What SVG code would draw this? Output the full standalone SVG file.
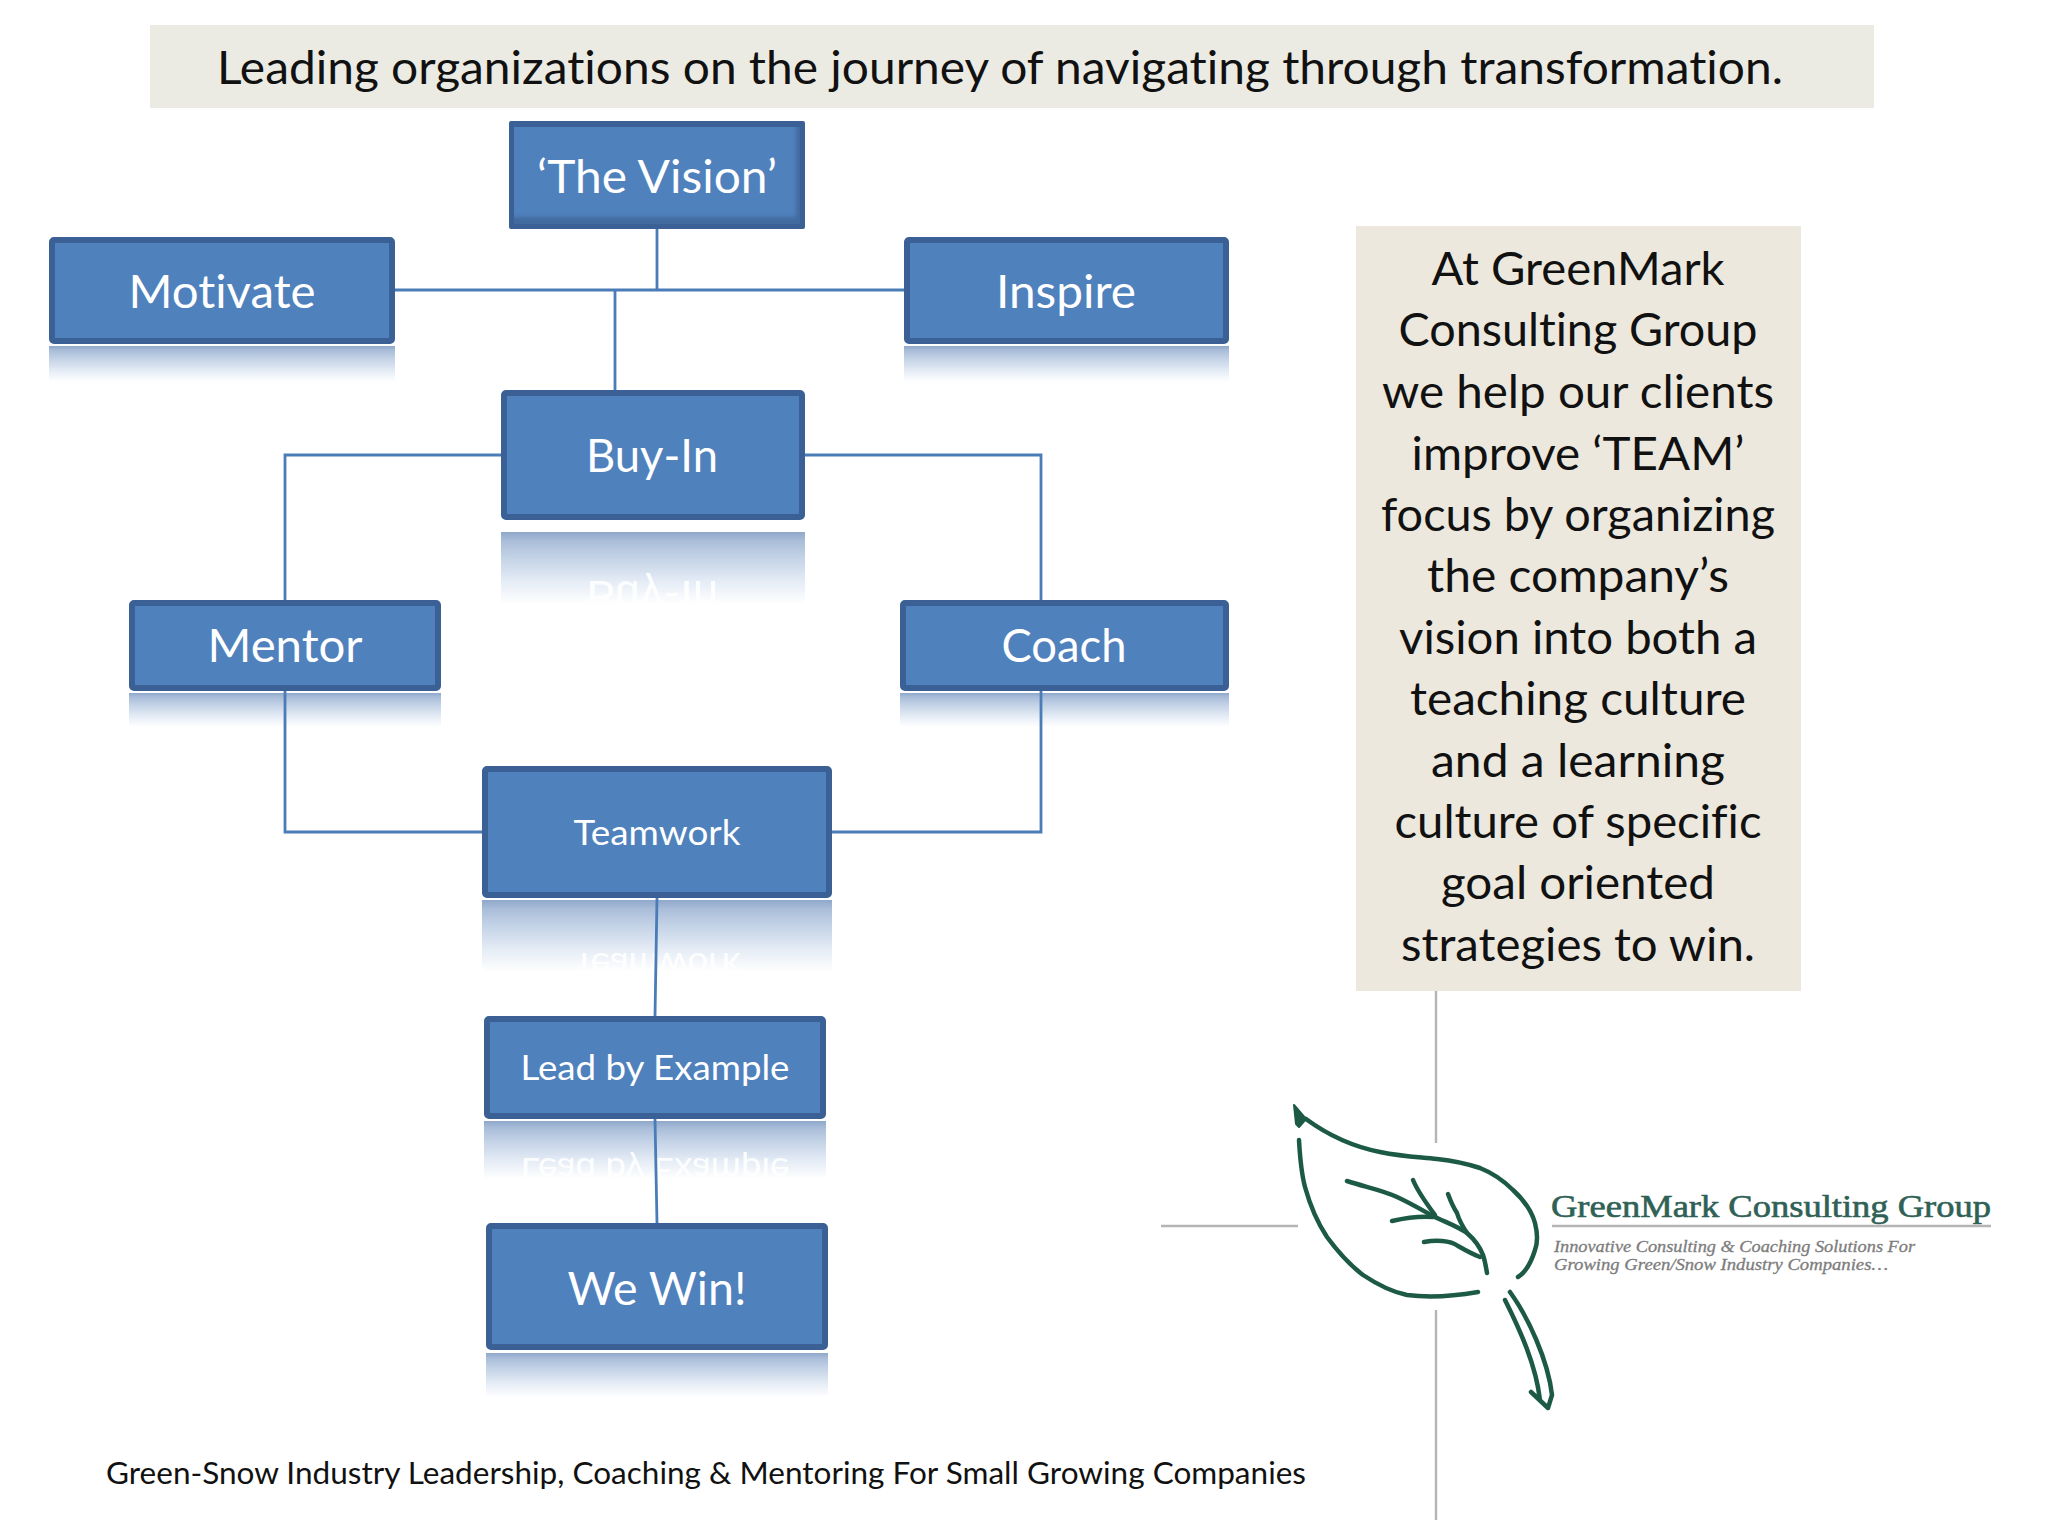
<svg xmlns="http://www.w3.org/2000/svg" width="2048" height="1536" viewBox="0 0 2048 1536">
<style>
text{font-family:"Lato","Liberation Sans",sans-serif;font-variant-ligatures:none}
.box{fill:#4f81bd;stroke:#3a6096;stroke-width:6}
.lbl{fill:#fff;text-anchor:middle}
.ref{fill:url(#fade)}
.mir{fill:#fff;text-anchor:middle;opacity:.9}
.conn{fill:none;stroke:#4a7cb8;stroke-width:2.8}
.gray{fill:none;stroke:#b5b5b5;stroke-width:2.4}
.body{fill:#111;text-anchor:middle;font-size:46px}
.leaf{fill:none;stroke:#1c5a46;stroke-width:4.5;stroke-linecap:round;stroke-linejoin:round}
.tag{font-family:"Liberation Serif",serif;font-style:italic;font-size:16px;fill:#7d7d7d;stroke:#7d7d7d;stroke-width:.3}
.brand{font-family:"Liberation Serif",serif;fill:#2f6156;stroke:#2f6156;stroke-width:.6}
</style>
<defs>
<linearGradient id="fade" x1="0" y1="0" x2="0" y2="1"><stop offset="0" stop-color="#8fa7ca"/><stop offset=".12" stop-color="#a9bdd9"/><stop offset=".35" stop-color="#c3d2e6"/><stop offset=".7" stop-color="#e6edf6"/><stop offset="1" stop-color="#fff"/></linearGradient>
<filter id="soft" x="-5%" y="-5%" width="110%" height="110%"><feGaussianBlur stdDeviation="2.200"/></filter>
<clipPath id="cVis"><rect x="514" y="127" width="286" height="97"/></clipPath>
<clipPath id="cBuy"><rect x="501" y="532" width="304" height="72"/></clipPath>
<clipPath id="cTeam"><rect x="482" y="900" width="350" height="72"/></clipPath>
<clipPath id="cLead"><rect x="484" y="1121" width="342" height="58"/></clipPath>
</defs>
<rect width="2048" height="1536" fill="#fff"/>
<g id="banner"><rect x="150" y="25" width="1724" height="83" fill="#ebebe4"/><text x="217" y="84" font-size="46" fill="#111" textLength="1566" lengthAdjust="spacingAndGlyphs">Leading organizations on the journey of navigating through transformation.</text></g>
<g id="reflections">
<rect class="ref" x="49" y="346" width="346" height="36"/>
<rect class="ref" x="904" y="346" width="325" height="36"/>
<rect class="ref" x="501" y="532" width="304" height="72"/>
<rect class="ref" x="129" y="693" width="312" height="34"/>
<rect class="ref" x="900" y="693" width="329" height="34"/>
<rect class="ref" x="482" y="900" width="350" height="72"/>
<rect class="ref" x="484" y="1121" width="342" height="58"/>
<rect class="ref" x="486" y="1353" width="342" height="44"/>
<g clip-path="url(#cBuy)"><text class="mir" transform="translate(652,581) scale(1,-1)" font-size="46" textLength="132" lengthAdjust="spacingAndGlyphs">Buy-In</text></g>
<g clip-path="url(#cTeam)"><text class="mir" transform="translate(657,953) scale(1,-1)" font-size="35" textLength="167" lengthAdjust="spacingAndGlyphs">Teamwork</text></g>
<g clip-path="url(#cLead)"><text class="mir" transform="translate(655,1158) scale(1,-1)" font-size="35" textLength="269" lengthAdjust="spacingAndGlyphs">Lead by Example</text></g>
</g>
<g id="connectors">
<path class="conn" d="M657 229V290M395 290H905M615 290V390"/>
<path class="conn" d="M501 455H285V600M805 455H1041V600"/>
<path class="conn" d="M285 691V832H482M1041 691V832H832"/>
<path class="conn" d="M657 898L655 1016M655 1119L657 1223"/>
<path class="gray" d="M1436 991V1143M1436 1310V1520M1161 1226H1298"/>
</g>
<g id="vision"><rect x="509" y="121" width="296" height="108" rx="2" fill="#3a6096"/><rect x="514" y="127" width="286" height="97" fill="#426a9f"/><g clip-path="url(#cVis)"><rect x="510" y="123" width="286" height="94" fill="#4f81bd" filter="url(#soft)"/></g><text class="lbl" x="657" y="193" font-size="46" textLength="240" lengthAdjust="spacingAndGlyphs">‘The Vision’</text></g>
<g id="motivate"><rect class="box" x="52" y="240" width="340" height="101" rx="2"/><text class="lbl" x="222" y="308" font-size="46" textLength="187" lengthAdjust="spacingAndGlyphs">Motivate</text></g>
<g id="inspire"><rect class="box" x="907" y="240" width="319" height="101" rx="2"/><text class="lbl" x="1066" y="308" font-size="46" textLength="140" lengthAdjust="spacingAndGlyphs">Inspire</text></g>
<g id="buy-in"><rect class="box" x="504" y="393" width="298" height="124" rx="2"/><text class="lbl" x="652" y="472" font-size="46" textLength="132" lengthAdjust="spacingAndGlyphs">Buy-In</text></g>
<g id="mentor"><rect class="box" x="132" y="603" width="306" height="85" rx="2"/><text class="lbl" x="285" y="662" font-size="46" textLength="155" lengthAdjust="spacingAndGlyphs">Mentor</text></g>
<g id="coach"><rect class="box" x="903" y="603" width="323" height="85" rx="2"/><text class="lbl" x="1064" y="662" font-size="46" textLength="125" lengthAdjust="spacingAndGlyphs">Coach</text></g>
<g id="teamwork"><rect class="box" x="485" y="769" width="344" height="126" rx="2"/><text class="lbl" x="657" y="845" font-size="35" textLength="167" lengthAdjust="spacingAndGlyphs">Teamwork</text></g>
<g id="lead"><rect class="box" x="487" y="1019" width="336" height="97" rx="2"/><text class="lbl" x="655" y="1080" font-size="35" textLength="269" lengthAdjust="spacingAndGlyphs">Lead by Example</text></g>
<g id="win"><rect class="box" x="489" y="1226" width="336" height="121" rx="2"/><text class="lbl" x="657" y="1305" font-size="46" textLength="179" lengthAdjust="spacingAndGlyphs">We Win!</text></g>
<g id="about"><rect x="1356" y="226" width="445" height="765" fill="#ece8dd"/>
<text class="body" x="1578" y="285" textLength="293" lengthAdjust="spacingAndGlyphs">At GreenMark</text>
<text class="body" x="1578" y="346" textLength="359" lengthAdjust="spacingAndGlyphs">Consulting Group</text>
<text class="body" x="1578" y="408" textLength="392" lengthAdjust="spacingAndGlyphs">we help our clients</text>
<text class="body" x="1578" y="470" textLength="333" lengthAdjust="spacingAndGlyphs">improve ‘TEAM’</text>
<text class="body" x="1578" y="531" textLength="394" lengthAdjust="spacingAndGlyphs">focus by organizing</text>
<text class="body" x="1578" y="592" textLength="302" lengthAdjust="spacingAndGlyphs">the company’s</text>
<text class="body" x="1578" y="654" textLength="358" lengthAdjust="spacingAndGlyphs">vision into both a</text>
<text class="body" x="1578" y="715" textLength="336" lengthAdjust="spacingAndGlyphs">teaching culture</text>
<text class="body" x="1578" y="777" textLength="294" lengthAdjust="spacingAndGlyphs">and a learning</text>
<text class="body" x="1578" y="838" textLength="367" lengthAdjust="spacingAndGlyphs">culture of specific</text>
<text class="body" x="1578" y="899" textLength="274" lengthAdjust="spacingAndGlyphs">goal oriented</text>
<text class="body" x="1578" y="961" textLength="354" lengthAdjust="spacingAndGlyphs">strategies to win.</text>
</g>
<g id="footer"><text x="106" y="1484" font-size="31" fill="#111" textLength="1200" lengthAdjust="spacingAndGlyphs">Green-Snow Industry Leadership, Coaching &amp; Mentoring For Small Growing Companies</text></g>
<g id="logo">
<path d="M1294 1105L1306 1119L1299 1127L1296 1124Z" fill="#1c5a46" stroke="#1c5a46" stroke-width="2" stroke-linejoin="round"/>
<path class="leaf" d="M1306 1119C1325 1133 1350 1146 1380 1152C1405 1157 1420 1157 1437 1159C1455 1161 1468 1164 1480 1168C1495 1174 1505 1182 1513 1190C1525 1201 1532 1212 1535 1223C1538 1235 1538 1242 1535 1250C1531 1263 1526 1272 1518 1277"/>
<path class="leaf" d="M1299 1140C1300 1158 1301 1172 1305 1187C1310 1205 1317 1222 1327 1237C1338 1252 1350 1265 1363 1275C1378 1285 1392 1292 1407 1295C1430 1298 1455 1296 1478 1292"/>
<path class="leaf" stroke-width="3.500" d="M1347 1181C1365 1187 1382 1190 1397 1197C1410 1203 1422 1210 1433 1216C1445 1222 1457 1226 1467 1233C1475 1240 1480 1247 1483 1255C1485 1261 1486 1267 1487 1273"/>
<path class="leaf" d="M1413 1180C1418 1192 1426 1203 1435 1215M1448 1194C1451 1202 1453 1207 1457 1213C1459 1220 1463 1227 1467 1233M1392 1221C1405 1218 1420 1216 1433 1217M1424 1242C1435 1240 1450 1240 1458 1246C1465 1250 1472 1254 1480 1257"/>
<path class="leaf" stroke-width="3" d="M1510 1292C1528 1317 1548 1360 1552 1395L1548 1408L1531 1392M1505 1300C1520 1330 1536 1365 1540 1400"/>
<text class="brand" x="1551" y="1217" font-size="31" textLength="440" lengthAdjust="spacingAndGlyphs">GreenMark Consulting Group</text>
<path d="M1552 1226H1991" stroke="#b5b5b5" stroke-width="2.400"/>
<text class="tag" x="1554" y="1252" textLength="361" lengthAdjust="spacingAndGlyphs">Innovative Consulting &amp; Coaching Solutions For</text>
<text class="tag" x="1554" y="1270" textLength="334" lengthAdjust="spacingAndGlyphs">Growing Green/Snow Industry Companies…</text>
</g>
</svg>
